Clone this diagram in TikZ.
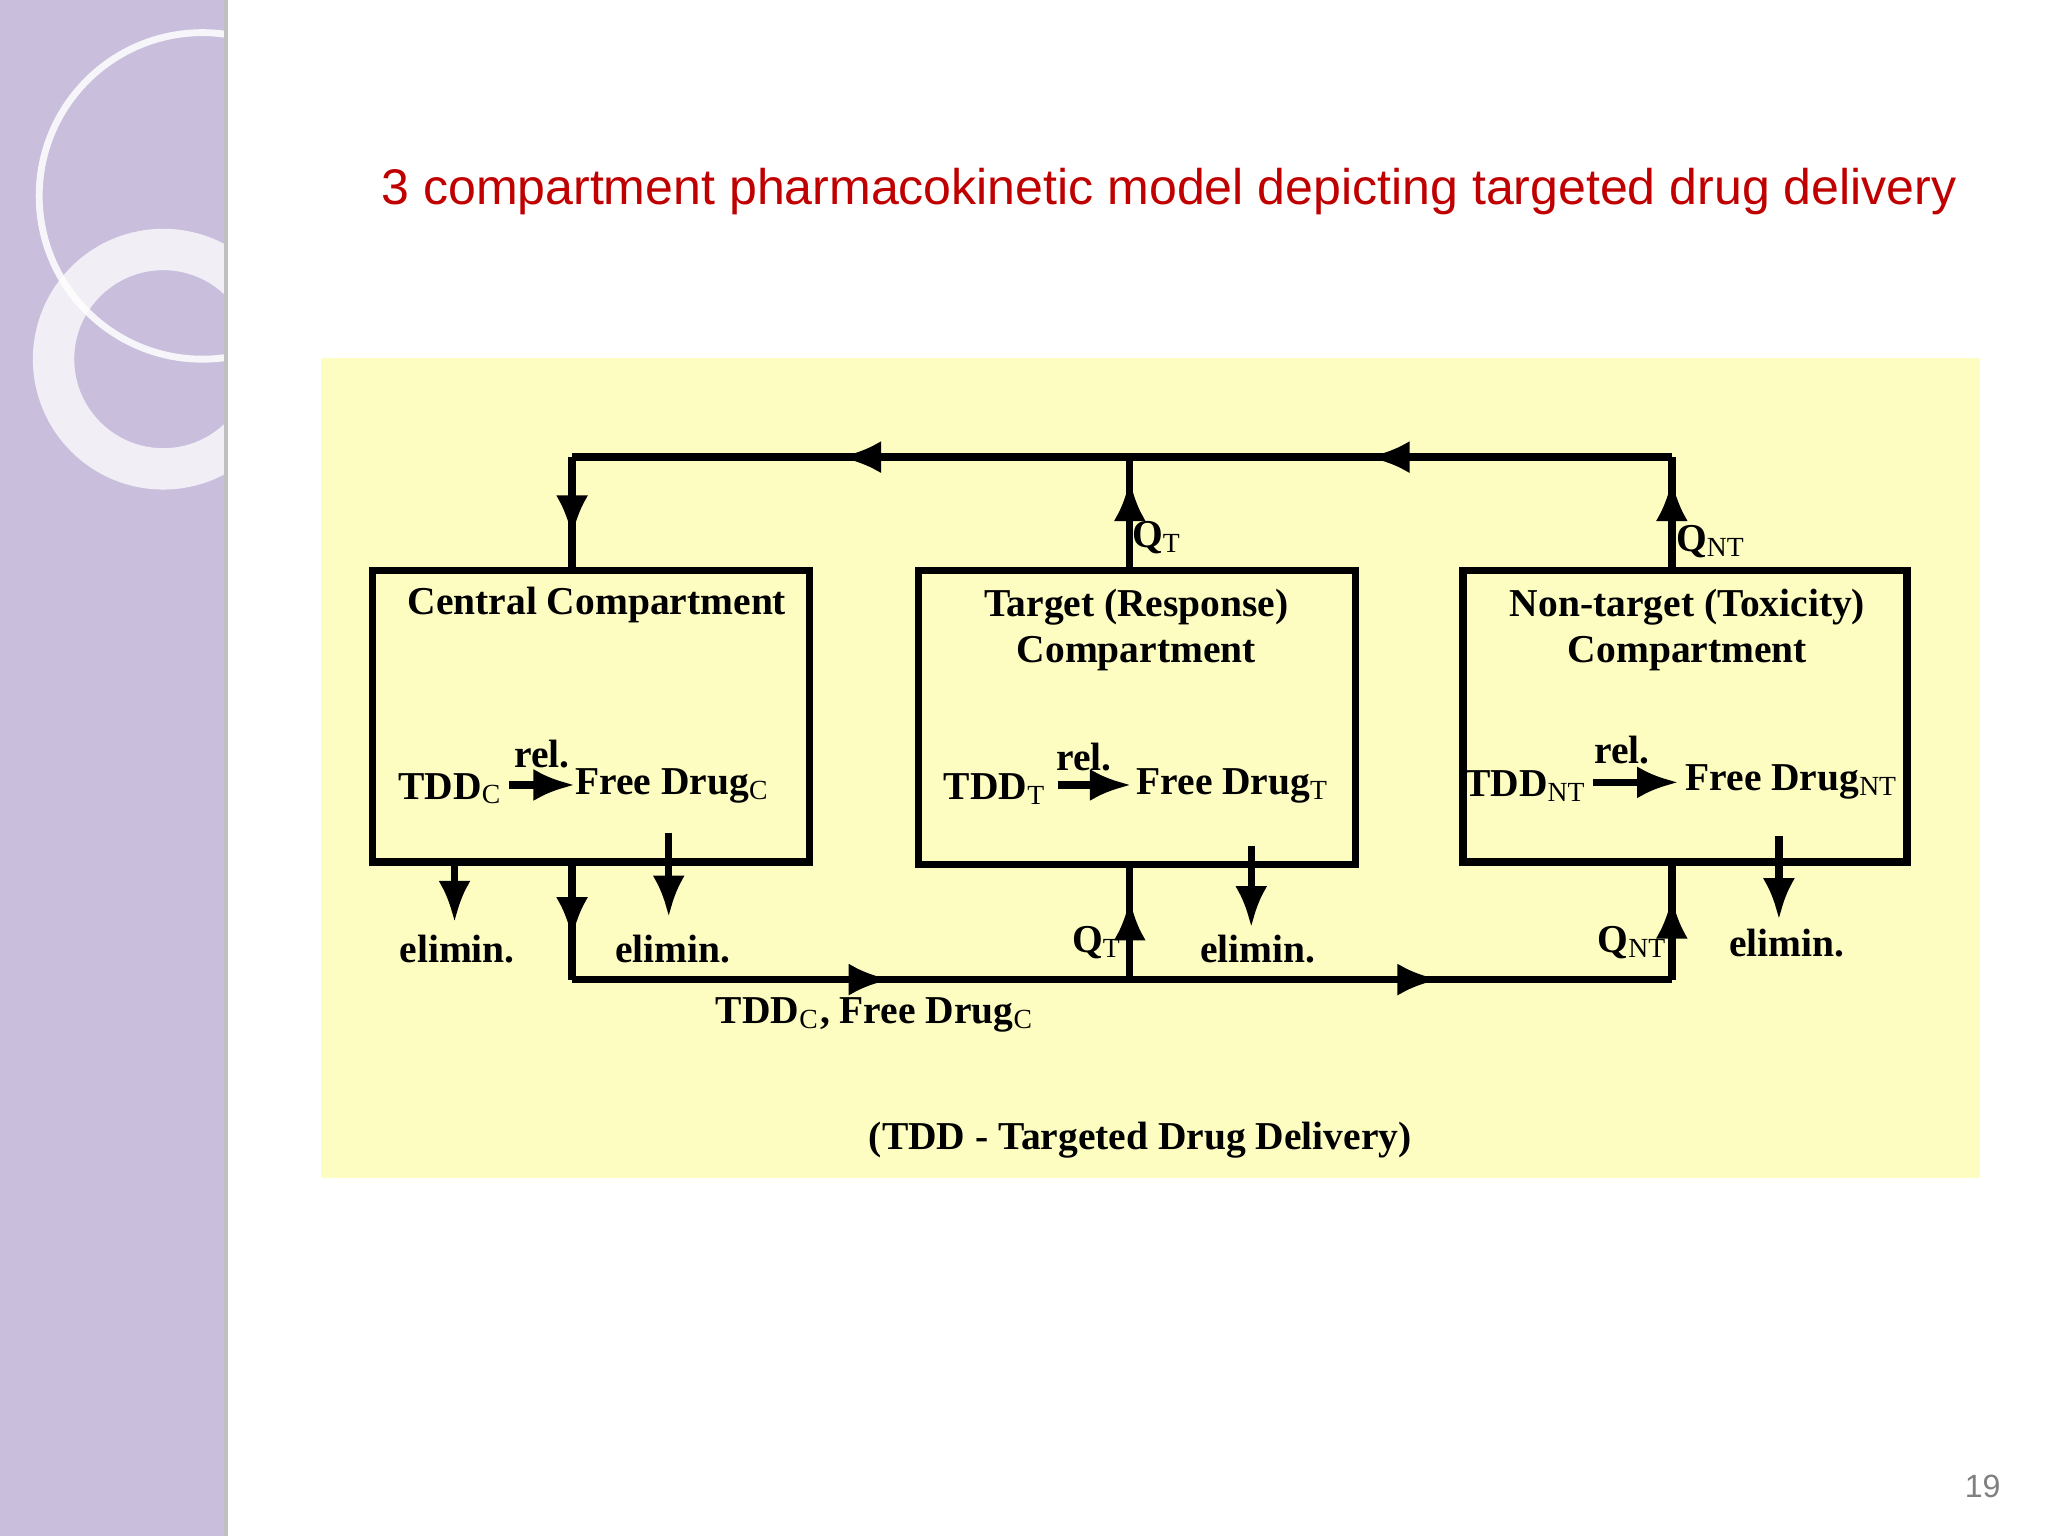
\documentclass[tikz,border=0pt]{standalone}
\usepackage{fontspec}
\setmainfont{Liberation Serif}
\newfontfamily\arialf{Liberation Sans}
\usetikzlibrary{arrows.meta,decorations.markings}
\definecolor{side}{HTML}{C9BFDD}
\definecolor{ttl}{HTML}{C00000}
\definecolor{yel}{HTML}{FDFDC2}
\begin{document}
\begin{tikzpicture}[x=0.01cm,y=-0.01cm,
  cbox/.style={draw,line width=1.6pt},
  wire/.style={line width=1.6pt},
  arr/.style={wire,-{Latex[length=9pt,width=7pt]}},
  mid/.style={wire,postaction={decorate},decoration={markings,mark=at position #1 with {\arrow{Latex[length=9pt,width=7pt]}}}},
  lab/.style={font=\fontsize{8.6}{10}\selectfont\bfseries, inner sep=1pt}]
\useasboundingbox (0,0) rectangle (1568,1176);
\fill[white] (0,0) rectangle (1568,1176);
\fill[side] (0,0) rectangle (173,1176);
\begin{scope}
\clip (0,0) rectangle (173,1176);
\fill[white,opacity=0.3] (0,0) -- (140,0) arc[start angle=0,end angle=-90,radius=140] -- cycle;
\draw[white,opacity=0.85,line width=1.5pt] (155,150) circle[radius=125];
\draw[white,opacity=0.75,line width=9pt] (125,275) circle[radius=84];
\end{scope}
\draw[gray!50,line width=1pt] (173,0) -- (173,1176);
\node[font=\arialf\fontsize{10.9}{12}\selectfont,text=ttl] (title) at (895,147) {3 compartment pharmacokinetic model depicting targeted drug delivery};
\node[font=\arialf\fontsize{7}{8}\selectfont,text=gray] (pg) at (1518,1138) {19};
\fill[yel] (246,274) rectangle (1516,902);
% boxes
\draw[cbox] (285,437) rectangle (620,660);
\draw[cbox] (703,437) rectangle (1038,662);
\draw[cbox] (1120,437) rectangle (1460,660);
\node[lab] (c1) at (457,463) {Central Compartment};
\node[lab,align=center] (t1) at (870,482) {Target (Response)\\Compartment};
\node[lab,align=center] (n1) at (1292,482) {Non-target (Toxicity)\\Compartment};
% inner
\node[lab] (tc) at (345,604) {TDD$_\mathrm{C}$};
\node[lab] (fc) at (515,602) {Free Drug$_\mathrm{C}$};
\draw[arr] (390,601) -- (440,601); \node[lab] at (415,577) {rel.};
\node[lab] (tt) at (762,604) {TDD$_\mathrm{T}$};
\node[lab] (ft) at (944,602) {Free Drug$_\mathrm{T}$};
\draw[arr] (810,601) -- (866,601); \node[lab] at (830,580) {rel.};
\node[lab] (tn) at (1168,602) {TDD$_\mathrm{NT}$};
\node[lab] (fn) at (1372,599) {Free Drug$_\mathrm{NT}$};
\draw[arr] (1220,599) -- (1285,599); \node[lab] at (1242,574) {rel.};
% top loop
\coordinate (a1) at (438,437); \coordinate (a2) at (438,350);
\coordinate (b1) at (865,437); \coordinate (b2) at (865,350);
\coordinate (d1) at (1280,437); \coordinate (d2) at (1280,350);
\draw[mid=0.56] (d2) -- (b2);
\draw[mid=0.52] (b2) -- (a2);
\draw[mid=0.7] (a2) -- (a1);
\draw[mid=0.8] (b1) -- (b2);
\draw[mid=0.8] (d1) -- (d2);
\node[lab] at (886,412) {Q$_\mathrm{T}$};
\node[lab] at (1310,415) {Q$_\mathrm{NT}$};
% bottom loop
\coordinate (e1) at (438,660); \coordinate (e2) at (438,750);
\coordinate (f1) at (865,662); \coordinate (f2) at (865,750);
\coordinate (g1) at (1280,660); \coordinate (g2) at (1280,750);
\draw[mid=0.65] (e1) -- (e2);
\draw[mid=0.57] (e2) -- (f2);
\draw[mid=0.57] (f2) -- (g2);
\draw[mid=0.7] (f2) -- (f1);
\draw[mid=0.7] (g2) -- (g1);
\node[lab] at (840,722) {Q$_\mathrm{T}$};
\node[lab] at (1250,722) {Q$_\mathrm{NT}$};
% elimin
\draw[arr] (348,660) -- (348,706); \node[lab] at (350,727) {elimin.};
\draw[arr] (512,638) -- (512,702); \node[lab] at (515,727) {elimin.};
\draw[arr] (958,648) -- (958,710); \node[lab] at (963,727) {elimin.};
\draw[arr] (1362,640) -- (1362,704); \node[lab] at (1368,722) {elimin.};
\node[lab] at (670,777) {TDD$_\mathrm{C}$, Free Drug$_\mathrm{C}$};
\node[lab] at (873,873) {(TDD - Targeted Drug Delivery)};
\end{tikzpicture}
\end{document}
